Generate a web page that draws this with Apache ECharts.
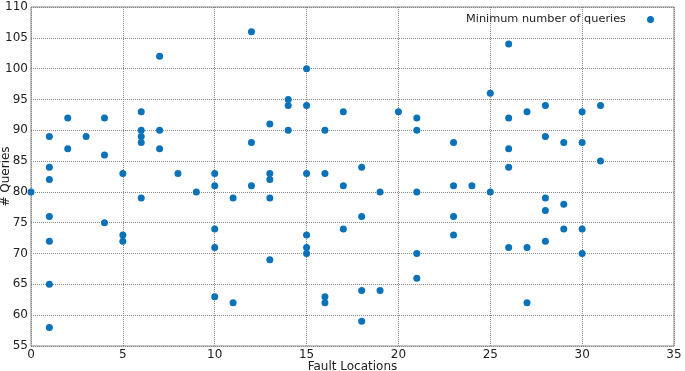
<!DOCTYPE html>
<html>
<head>
<meta charset="utf-8">
<script src="https://cdn.jsdelivr.net/npm/echarts@6/dist/echarts.min.js"></script>
<style>
  html, body { margin: 0; padding: 0; background: #fff; }
  #main { width: 685px; height: 371px; }
</style>
</head>
<body>
<div id="main"></div>
<script>
// fault location (x) and number of queries (y)
const faultLoc = [
  0,
  1, 1, 1, 1, 1, 1, 1,
  2, 2,
  3,
  4, 4, 4,
  5, 5, 5,
  6, 6, 6, 6, 6,
  7, 7, 7,
  8,
  9,
  10, 10, 10, 10, 10,
  11, 11,
  12, 12, 12,
  13, 13, 13, 13, 13,
  14, 14, 14,
  15, 15, 15, 15, 15, 15,
  16, 16, 16, 16,
  17, 17, 17,
  18, 18, 18, 18,
  19, 19,
  20,
  21, 21, 21, 21, 21,
  23, 23, 23, 23,
  24,
  25, 25,
  26, 26, 26, 26, 26,
  27, 27, 27,
  28, 28, 28, 28, 28,
  29, 29, 29,
  30, 30, 30, 30,
  31, 31
];
const queries = [
  80,
  89, 84, 82, 76, 72, 65, 58,
  92, 87,
  89,
  92, 86, 75,
  83, 73, 72,
  93, 90, 89, 88, 79,
  102, 90, 87,
  83,
  80,
  83, 81, 74, 71, 63,
  79, 62,
  106, 88, 81,
  91, 83, 82, 79, 69,
  95, 94, 90,
  100, 94, 83, 73, 71, 70,
  90, 83, 63, 62,
  93, 81, 74,
  84, 76, 64, 59,
  80, 64,
  93,
  92, 90, 80, 70, 66,
  88, 81, 76, 73,
  81,
  96, 80,
  104, 92, 87, 84, 71,
  93, 71, 62,
  94, 89, 79, 77, 72,
  88, 78, 74,
  93, 88, 74, 70,
  94, 85
];
const seriesName = 'Minimum number of queries';

const points = faultLoc.map((x, i) => [x, queries[i]]);

const chart = echarts.init(document.getElementById('main'));
const fontFam = 'DejaVu Sans';

chart.setOption({
  animation: false,
  textStyle: { fontFamily: fontFam },
  grid: {
    left: 31, right: 11, top: 7, bottom: 25,
    containLabel: false,
    outerBoundsMode: 'none',
    show: true,
    borderColor: '#8a8a8a',
    borderWidth: 1
  },
  legend: {
    data: [seriesName],
    right: 26,
    top: 9,
    align: 'right',
    itemWidth: 7,
    itemHeight: 7,
    itemGap: 10,
    textStyle: { color: '#222', fontSize: 11.3, fontFamily: fontFam, padding: [0, 16, 0, 0] }
  },
  xAxis: {
    type: 'value',
    min: 0, max: 35, interval: 5,
    name: 'Fault Locations',
    nameLocation: 'middle',
    nameGap: 15,
    nameMoveOverlap: false,
    nameTextStyle: { color: '#222', fontSize: 12 },
    axisLine: { show: false },
    axisTick: { show: false },
    axisLabel: { color: '#222', fontSize: 12, margin: 3 },
    splitLine: { show: true, lineStyle: { type: 'dotted', color: '#888', width: 1 } }
  },
  yAxis: {
    type: 'value',
    min: 55, max: 110, interval: 5,
    name: '# Queries',
    nameLocation: 'middle',
    nameGap: 19,
    nameMoveOverlap: false,
    nameTextStyle: { color: '#222', fontSize: 12 },
    axisLine: { show: false },
    axisTick: { show: false },
    axisLabel: { color: '#222', fontSize: 12, margin: 3 },
    splitLine: { show: true, lineStyle: { type: 'dotted', color: '#888', width: 1 } }
  },
  series: [{
    name: seriesName,
    type: 'scatter',
    data: points,
    symbolSize: 7,
    itemStyle: { color: '#0a72b8', opacity: 1 }
  }]
});
</script>
</body>
</html>
